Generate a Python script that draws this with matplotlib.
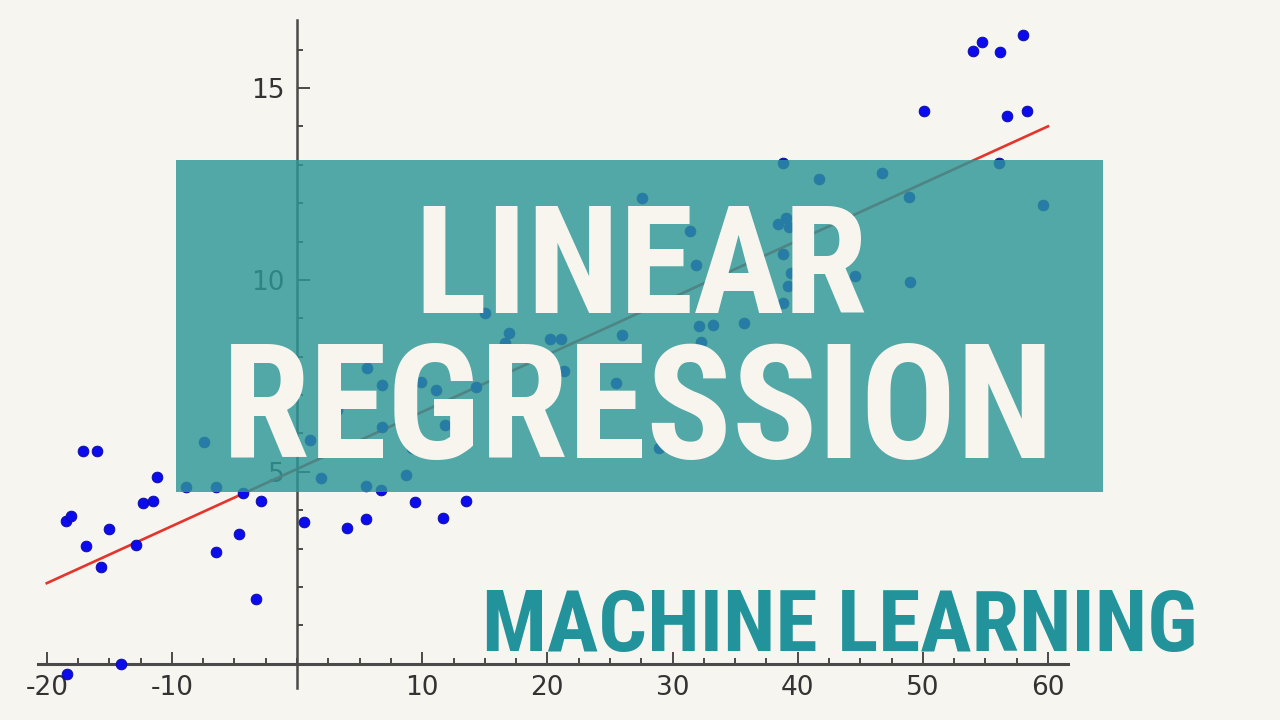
import matplotlib
matplotlib.use("Agg")
import matplotlib.pyplot as plt
from matplotlib import font_manager
from matplotlib.patches import Rectangle
from matplotlib.ticker import MultipleLocator, FixedLocator

plt.rcParams["axes.unicode_minus"] = False

# datos de los puntos
x_pts = [-17.1, -16.0, -11.2, -12.35, -11.5, -18.5, -18.1, -15.0, -16.9, -12.9,
         -15.7, -4.6, -6.5, -2.86, -4.3, -3.3, -14.05, -18.4, 0.56, 4.0,
         5.5, 9.4, 11.65, 13.5, 54.7, 54.0, 56.2, 58.0, 50.1, 56.7,
         58.3, -7.4, -8.9, -6.5, 1.0, 1.95, 5.5, 6.7, 8.7, 6.8,
         3.2, 11.8, 9.2, 5.6, 6.8, 9.9, 11.1, 14.3, 21.3, 25.5,
         15.0, 16.9, 20.2, 21.1, 26.0, 16.6, 27.6, 31.4, 31.9, 32.1,
         33.2, 32.3, 28.9, 38.8, 41.7, 46.7, 56.1, 48.9, 59.6, 39.1,
         39.3, 38.4, 36.2, 38.8, 39.5, 39.2, 44.6, 49.0, 38.8, 35.7]
y_pts = [5.55, 5.55, 4.86, 4.18, 4.24, 3.71, 3.85, 3.52, 3.07, 3.10,
         2.53, 3.39, 2.90, 4.23, 4.44, 1.68, 0.0, -0.27, 3.70, 3.53,
         3.77, 4.22, 3.79, 4.24, 16.2, 15.95, 15.93, 16.39, 14.4, 14.26,
         14.39, 5.78, 4.60, 4.60, 5.82, 4.83, 4.64, 4.53, 4.92, 6.18,
         6.61, 6.22, 5.62, 7.70, 7.25, 7.34, 7.12, 7.21, 7.63, 7.31,
         9.13, 8.63, 8.46, 8.46, 8.57, 8.35, 12.14, 11.27, 10.38, 8.80,
         8.83, 8.37, 5.63, 13.04, 12.64, 12.78, 13.04, 12.17, 11.95, 11.6,
         11.39, 11.46, 10.83, 10.68, 10.17, 9.83, 10.11, 9.95, 9.39, 8.87]

# recta de regresion (extremos)
x_fit = [-20, 60]
y_fit = [2.10, 14.0]

x_ticks = [-20, -10, 10, 20, 30, 40, 50, 60]
y_ticks = [5, 10, 15]

title_1 = "LINEAR"
title_2 = "REGRESSION"
subtitle = "MACHINE LEARNING"

# buscar una fuente estrecha si hay alguna instalada
fonts = font_manager.fontManager.ttflist
narrow = None
for fam in ["Liberation Sans Narrow", "Roboto Condensed", "Open Sans Condensed",
            "Noto Sans", "DejaVu Sans", "Open Sans", "Roboto"]:
    for f in fonts:
        if f.name == fam and ("ondensed" in str(f.stretch) or "Narrow" in fam
                              or "Condensed" in fam):
            narrow = (fam, f.stretch)
            break
    if narrow:
        break
if narrow is None:
    narrow = ("DejaVu Sans", "normal")

bg = "#f6f5ef"
fig = plt.figure(figsize=(12.8, 7.2), dpi=100, facecolor=bg)
ax = fig.add_axes([38 / 1280, 1 - 688 / 720, 1030 / 1280, 668 / 720])
ax.set_facecolor(bg)

ax.plot(x_fit, y_fit, color="#e4342b", lw=1.9, zorder=2)
ax.scatter(x_pts, y_pts, s=60, color="#0b0bee", edgecolors="#0a0a9a",
           linewidths=0.6, zorder=3)

ax.set_xlim(-20.7, 61.6)
ax.set_ylim(-0.63, 16.77)

# ejes estilo sage: cruzan en el origen
for side in ["top", "right"]:
    ax.spines[side].set_visible(False)
ax.spines["left"].set_position(("data", 0))
ax.spines["bottom"].set_position(("data", 0))
for side in ["left", "bottom"]:
    ax.spines[side].set_color("#4a4a4a")
ax.spines["bottom"].set_linewidth(2.2)
ax.spines["left"].set_linewidth(1.8)

ax.xaxis.set_major_locator(FixedLocator(x_ticks))
ax.yaxis.set_major_locator(FixedLocator(y_ticks))
ax.xaxis.set_minor_locator(MultipleLocator(2.5))
ax.yaxis.set_minor_locator(MultipleLocator(1))
ax.tick_params(which="both", direction="in", color="#4a4a4a", width=1.4,
               labelsize=19, labelcolor="#333333")
ax.tick_params(which="major", length=9)
ax.tick_params(which="minor", length=4.5)
ax.tick_params(axis="x", pad=8)
ax.tick_params(axis="y", pad=9)

# caja del titulo por encima del grafico
box = Rectangle((176 / 1280, 1 - 492 / 720), 927 / 1280, 332 / 720,
                transform=fig.transFigure, facecolor="#2e9698", alpha=0.82,
                edgecolor="none", zorder=5)
fig.patches.append(box)

renderer = fig.canvas.get_renderer()


def title_text(s, cx, cy, width, color):
    # ajusta el tamaño para que el ancho coincida, centrado en la altura de las mayusculas
    t = fig.text(cx / 1280, 0.5, s, ha="center", va="baseline", fontsize=60,
                 fontweight="bold", color=color, family=narrow[0],
                 fontstretch=narrow[1], zorder=6)
    w = t.get_window_extent(renderer).width
    size = 60 * width / w
    t.set_fontsize(size)
    cap = 0.73 * size * 100 / 72
    t.set_y(1 - (cy + cap / 2) / 720)
    return t


title_text(title_1, 641, 258, 453, "#f7f5ee")
title_text(title_2, 638, 400, 833, "#f7f5ee")
title_text(subtitle, 840, 620, 716, "#22939a")

fig.savefig("out.png", dpi=100, facecolor=bg)
